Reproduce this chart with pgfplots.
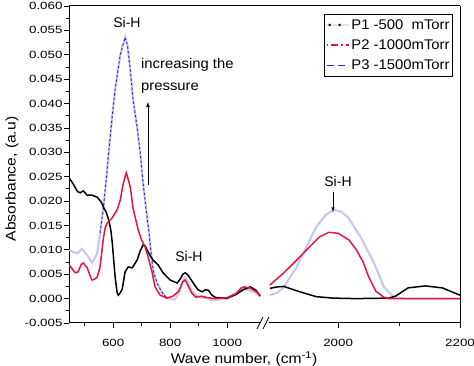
\documentclass[border=0pt]{standalone}
\usepackage{fontspec}
\setmainfont{Liberation Sans}
\newfontfamily\tickfont[FakeStretch=1.27]{Liberation Sans}
\newfontfamily\labfont[FakeStretch=1.12]{Liberation Sans}
\newfontfamily\annfont[FakeStretch=1.06]{Liberation Sans}
\usepackage{pgfplots}
\pgfplotsset{compat=1.18}
\usepackage{pgfplotstable}
\definecolor{pred}{RGB}{232,20,60}
\definecolor{plav}{RGB}{200,200,242}
\definecolor{pblue}{RGB}{40,40,205}

\pgfplotstableread{
w v
446 0.0247
460 0.0235
474 0.0220
484 0.0217
495 0.0221
509 0.0212
526 0.0212
544 0.0208
558 0.0198
568 0.0185
575 0.0178
585 0.0160
592 0.0140
597 0.0114
602 0.0079
607 0.0044
614 0.0012
618 0.0007
625 0.0012
632 0.0020
642 0.0055
653 0.0065
667 0.0063
684 0.0079
695 0.0098
705 0.0110
712 0.0108
719 0.0100
730 0.0088
740 0.0079
758 0.0069
775 0.0053
800 0.0038
825 0.0032
835 0.0040
845 0.0050
853 0.0053
863 0.0048
881 0.0032
898 0.0018
912 0.0014
923 0.0018
935 0.0017
945 0.0008
960 0.0002
1000 0.0001
1030 0.0008
1056 0.0018
1081 0.0024
1100 0.0018
1116 0.0005
}\ponel
\pgfplotstableread{
w v
1888 0.0021
1900 0.0024
1911 0.0025
1937 0.0014
1964 0.0004
1992 0.0001
2029 0.0000
2083 0.0001
2094 0.0005
2115 0.0022
2143 0.0026
2171 0.0022
2200 0.0007
}\poner
\pgfplotstableread{
w v
446 0.0069
460 0.0058
467 0.0053
477 0.0055
488 0.0070
495 0.0073
509 0.0063
520 0.0045
526 0.0038
535 0.0040
544 0.0044
554 0.0065
560 0.0095
565 0.0120
572 0.0145
579 0.0155
596 0.0165
614 0.0182
625 0.0202
635 0.0235
646 0.0258
655 0.0240
660 0.0229
670 0.0185
680 0.0160
688 0.0141
700 0.0120
712 0.0106
723 0.0085
737 0.0053
747 0.0024
765 0.0007
789 0.0001
810 0.0005
830 0.0015
845 0.0035
853 0.0038
860 0.0030
875 0.0012
890 0.0003
910 0.0005
930 0.0002
960 0.0000
1000 0.0002
1030 0.0010
1050 0.0022
1060 0.0024
1080 0.0022
1100 0.0015
1116 0.0007
}\ptwol
\pgfplotstableread{
w v
1888 0.0028
1911 0.0053
1932 0.0079
1953 0.0106
1969 0.0126
1985 0.0136
2000 0.0134
2018 0.0120
2030 0.0100
2041 0.0075
2050 0.0045
2062 0.0015
2075 0.0003
2083 0.0000
2200 0.0000
}\ptwor
\pgfplotstableread{
w v
446 0.0100
460 0.0095
475 0.0093
490 0.0102
500 0.0095
509 0.0089
526 0.0073
544 0.0093
554 0.0135
565 0.0182
575 0.0240
586 0.0310
596 0.0370
607 0.0430
625 0.0500
642 0.0536
650 0.0520
660 0.0470
670 0.0407
684 0.0352
695 0.0299
705 0.0237
716 0.0182
726 0.0135
733 0.0094
740 0.0059
754 0.0032
772 0.0012
789 0.0001
815 -0.0002
830 0.0010
845 0.0038
853 0.0044
865 0.0030
880 0.0012
898 0.0003
920 0.0002
950 -0.0003
1000 0.0000
1030 0.0010
1056 0.0020
1075 0.0018
1100 0.0012
1116 0.0005
}\pthreel
\pgfplotstableread{
w v
1888 0.0007
1900 0.0012
1911 0.0024
1932 0.0065
1948 0.0106
1964 0.0147
1980 0.0172
1993 0.0182
2005 0.0178
2016 0.0167
2037 0.0126
2059 0.0073
2075 0.0024
2091 0.0003
2110 0.0000
2200 0.0000
}\pthreer

\begin{document}
\begin{tikzpicture}[x=1pt,y=1pt]
\path[use as bounding box] (0pt,0pt) rectangle (474pt,366pt);
\pgfplotsset{
  common/.style={
    scale only axis, height=317pt,
    ymin=-0.005, ymax=0.060,
    axis line style={line width=1pt},
    tick style={black, line width=0.8pt},
    tick align=outside,
    major tick length=5pt, minor tick length=3pt,
    xticklabel style={font=\tickfont\fontsize{10.5}{12}\selectfont, yshift=-8pt},
    /pgf/number format/assume math mode=true,
    /pgf/number format/1000 sep={},
    axis x line*=bottom,
  },
  p1/.style={black, line width=1.5pt},
  p2/.style={pred, line width=1.5pt},
  p3/.style={plav, line width=2.2pt},
  p3d/.style={pblue, line width=0.9pt, dash pattern=on 2.4pt off 2.2pt},
}
\begin{axis}[common, at={(69pt,43pt)}, anchor=south west, width=196pt,
  xmin=445, xmax=1133,
  axis y line*=left,
  ytick={-0.005,0,0.005,0.01,0.015,0.02,0.025,0.03,0.035,0.04,0.045,0.05,0.055,0.06},
  minor y tick num=1,
  scaled y ticks=false,
  yticklabel style={font=\tickfont\fontsize{10.5}{12}\selectfont, xshift=2pt,
    /pgf/number format/.cd, fixed, fixed zerofill, precision=3},
  xtick={600,800,1000}, minor xtick={500,700,900},
]
\addplot[p3] table[x=w,y=v] {\pthreel};
\addplot[p3d, restrict x to domain=548:790] table[x=w,y=v] {\pthreel};
\addplot[p1] table[x=w,y=v] {\ponel};
\addplot[p2] table[x=w,y=v] {\ptwol};
\end{axis}
\begin{axis}[common, at={(265pt,43pt)}, anchor=south west, width=195pt,
  xmin=1880, xmax=2200,
  axis y line*=right, ytick=\empty,
  xtick={2000,2200}, minor xtick={2100},
  legend style={at={(0.964,0.975)}, anchor=north east, draw=black, line width=0.8pt,
    font=\annfont\fontsize{14}{16}\selectfont, row sep=5pt, inner xsep=1pt, inner ysep=3pt,
    /tikz/every even column/.append style={column sep=1pt}},
  legend cell align=left,
]
\addlegendimage{legend image code/.code={
  \draw[draw=gray!22, line width=1.4pt] (0pt,0pt) -- (22pt,0pt);
  \fill[fill=black] (3pt,0pt) circle (0.8pt);
  \fill[fill=black] (13pt,0pt) circle (0.8pt);}}
\addlegendentry{P1 -500\ \ mTorr\hspace{7pt}}
\addlegendimage{legend image code/.code={
  \draw[draw=pred, line width=1.6pt, dash pattern=on 1.5pt off 3pt on 7pt off 3pt] (0pt,0pt) -- (22pt,0pt);}}
\addlegendentry{P2 -1000mTorr\hspace{7pt}}
\addlegendimage{legend image code/.code={
  \draw[draw=pblue, line width=1.6pt, dash pattern=on 7pt off 4pt] (0pt,0pt) -- (22pt,0pt);}}
\addlegendentry{P3 -1500mTorr\hspace{7pt}}
\addplot[p3, forget plot] table[x=w,y=v] {\pthreer};
\addplot[p1, forget plot] table[x=w,y=v] {\poner};
\addplot[p2, forget plot] table[x=w,y=v] {\ptwor};
\end{axis}
% top frame line and axis break
\draw[line width=1pt] (69pt,360pt) -- (460pt,360pt);
\fill[white] (261pt,38pt) rectangle (269pt,48pt);
\draw[line width=0.8pt] (257pt,37pt) -- (263pt,49pt);
\draw[line width=0.8pt] (263pt,37pt) -- (269pt,49pt);
% labels
\node[rotate=90, font=\labfont\fontsize{14}{16}\selectfont] at (12pt,187pt) {Absorbance, (a.u)};
\node[font=\labfont\fontsize{14}{16}\selectfont] at (244pt,7pt) {Wave number, (cm\textsuperscript{-1})};
% annotations
\node[font=\fontsize{14}{16}\selectfont] at (127pt,343pt) {Si-H};
\node[font=\annfont\fontsize{14}{22}\selectfont, align=left, anchor=west, inner sep=0pt] at (141pt,290pt) {increasing the\\pressure};
\draw[-latex, line width=0.8pt] (148pt,181pt) -- (148pt,264pt);
\node[font=\fontsize{14}{16}\selectfont] at (189pt,109pt) {Si-H};
\node[font=\fontsize{14}{16}\selectfont] at (338pt,184pt) {Si-H};
\draw[-latex, line width=0.6pt] (333pt,174pt) -- (333pt,154pt);
\end{tikzpicture}
\end{document}
